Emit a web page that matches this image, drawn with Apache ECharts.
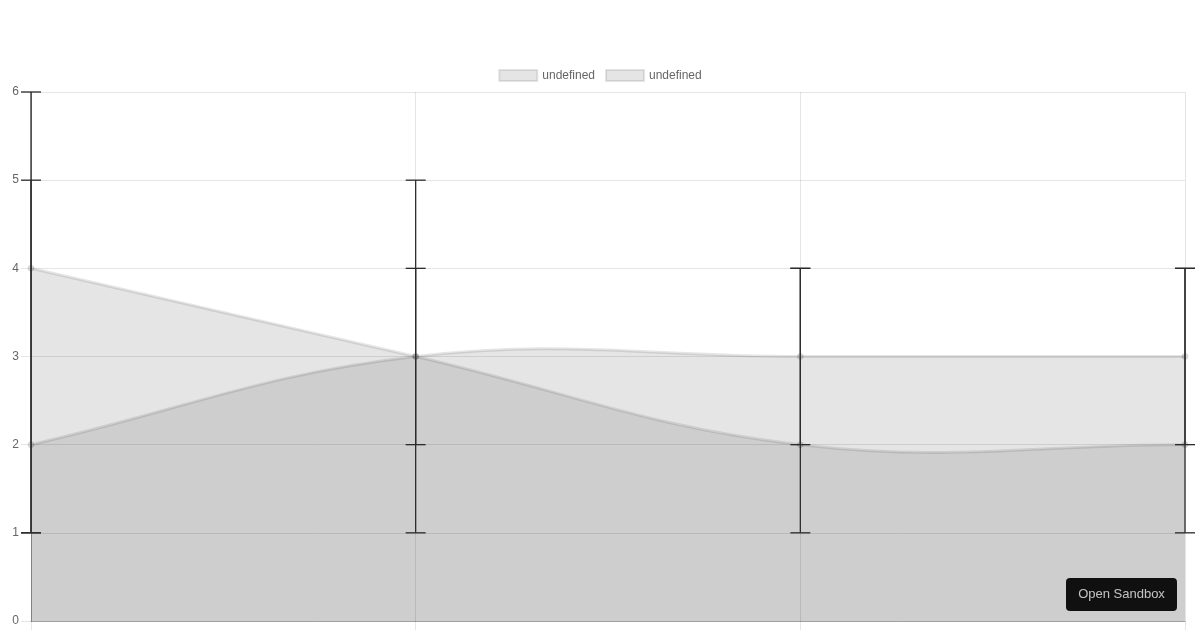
<!DOCTYPE html>
<html>
<head>
<meta charset="utf-8">
<script src="https://cdn.jsdelivr.net/npm/echarts@6/dist/echarts.min.js"></script>
<style>html,body{margin:0;padding:0;background:#fff;}#c{width:1200px;height:630px;}</style>
</head>
<body>
<div id="c"></div>
<script>
var categories = ['', '', '', ''];
var legendNames = ['undefined', 'undefined'];
var seriesA = [4, 3, 2, 2];
var seriesB = [2, 3, 3, 3];
// error bar ranges [low, high] per category
var errA = [[1, 6], [2, 4], [1, 4], [1, 4]];
var errB = [[1, 5], [1, 5], [2, 4], [2, 4]];
var yTicks = [0, 1, 2, 3, 4, 5, 6];

var chart = echarts.init(document.getElementById('c'));
var FONT = 'Liberation Sans, Arial, Helvetica, sans-serif';
var fill = 'rgba(0,0,0,0.1)';
var TENSION = 0.4;

function errData(err) {
  return err.map(function (e, i) { return [i, e[0], e[1]]; });
}
function renderErr(params, api) {
  var x = api.value(0);
  var lo = api.coord([x, api.value(1)]);
  var hi = api.coord([x, api.value(2)]);
  var w = 10;
  var st = { stroke: '#2c2c2c', lineWidth: 1.3 };
  return {
    type: 'group',
    children: [
      { type: 'line', shape: { x1: lo[0], y1: lo[1], x2: hi[0], y2: hi[1] }, style: st },
      { type: 'line', shape: { x1: lo[0] - w, y1: lo[1], x2: lo[0] + w, y2: lo[1] }, style: st },
      { type: 'line', shape: { x1: hi[0] - w, y1: hi[1], x2: hi[0] + w, y2: hi[1] }, style: st }
    ]
  };
}

// Chart.js style spline (tension 0.4) through points in pixel space
function makeCurveRenderer(values) {
  return function (params, api) {
    if (params.dataIndex !== 0) return null;
    var pts = values.map(function (v, i) { return api.coord([i, v]); });
    var n = pts.length;
    var cps = pts.map(function (p, i) {
      var prev = pts[Math.max(0, i - 1)], next = pts[Math.min(n - 1, i + 1)];
      var d01 = Math.hypot(p[0] - prev[0], p[1] - prev[1]);
      var d12 = Math.hypot(next[0] - p[0], next[1] - p[1]);
      var s = d01 + d12 || 1;
      var fa = TENSION * d01 / s, fb = TENSION * d12 / s;
      return {
        prev: [p[0] - fa * (next[0] - prev[0]), p[1] - fa * (next[1] - prev[1])],
        next: [p[0] + fb * (next[0] - prev[0]), p[1] + fb * (next[1] - prev[1])]
      };
    });
    var d = 'M' + pts[0][0] + ' ' + pts[0][1];
    for (var i = 1; i < n; i++) {
      var c1 = cps[i - 1].next, c2 = cps[i].prev;
      d += ' C' + c1[0] + ' ' + c1[1] + ' ' + c2[0] + ' ' + c2[1] + ' ' + pts[i][0] + ' ' + pts[i][1];
    }
    var baseY = api.coord([0, 0])[1];
    var area = d + ' L' + pts[n - 1][0] + ' ' + baseY + ' L' + pts[0][0] + ' ' + baseY + ' Z';
    return {
      type: 'group',
      children: [
        { type: 'path', shape: { pathData: area }, style: { fill: fill, stroke: null } },
        { type: 'path', shape: { pathData: d }, style: { fill: null, stroke: fill, lineWidth: 3 } }
      ]
    };
  };
}

function lineSeries(name, data) {
  return {
    name: name,
    type: 'line',
    data: data,
    symbol: 'circle',
    symbolSize: 6,
    lineStyle: { width: 0, opacity: 0 },
    itemStyle: { color: 'rgba(0,0,0,0.12)', borderColor: 'rgba(0,0,0,0.1)', borderWidth: 1 },
    z: 3
  };
}
function curveSeries(values) {
  return {
    type: 'custom',
    renderItem: makeCurveRenderer(values),
    data: values.map(function (v, i) { return [i, v]; }),
    silent: true,
    z: 2
  };
}

var option = {
  animation: false,
  textStyle: { fontFamily: FONT },
  legend: {
    top: 64,
    left: 'center',
    itemWidth: 38,
    itemHeight: 11,
    itemGap: 10,
    icon: 'rect',
    data: ['A', 'B'],
    formatter: function (n) { return n === 'A' ? legendNames[0] : legendNames[1]; },
    textStyle: { color: '#666', fontSize: 12, fontFamily: FONT },
    itemStyle: { color: fill, borderColor: 'rgba(0,0,0,0.1)', borderWidth: 2 },
    selectedMode: false
  },
  grid: { left: 31, right: 15, top: 92, bottom: 9, containLabel: false },
  xAxis: {
    type: 'category',
    data: categories,
    boundaryGap: false,
    axisLine: { show: true, lineStyle: { color: 'rgba(0,0,0,0.3)', width: 1 } },
    axisTick: { show: true, length: 10, lineStyle: { color: 'rgba(0,0,0,0.1)' } },
    axisLabel: { show: false },
    splitLine: { show: true, lineStyle: { color: 'rgba(0,0,0,0.1)' } }
  },
  yAxis: {
    type: 'value',
    min: 0,
    max: 6,
    interval: 1,
    axisLine: { show: true, lineStyle: { color: 'rgba(0,0,0,0.3)', width: 1 } },
    axisTick: { show: true, length: 10, lineStyle: { color: 'rgba(0,0,0,0.1)' } },
    axisLabel: {
      color: '#666', fontSize: 12, fontFamily: FONT, margin: 12,
      formatter: function (v) { return yTicks.indexOf(v) >= 0 ? String(v) : ''; }
    },
    splitLine: { show: true, lineStyle: { color: 'rgba(0,0,0,0.1)' } }
  },
  series: [
    curveSeries(seriesA),
    curveSeries(seriesB),
    lineSeries('A', seriesA),
    lineSeries('B', seriesB),
    { type: 'custom', renderItem: renderErr, data: errData(errA), z: 5, silent: true },
    { type: 'custom', renderItem: renderErr, data: errData(errB), z: 5, silent: true }
  ],
  graphic: [{
    type: 'group',
    right: 23,
    bottom: 19,
    children: [
      { type: 'rect', shape: { x: 0, y: 0, width: 111, height: 33, r: 4 }, style: { fill: '#151515' } },
      { type: 'text', x: 55.5, y: 16.5, style: { text: 'Open Sandbox', fill: '#f0f0f0', font: '13px ' + FONT, align: 'center', verticalAlign: 'middle' } }
    ]
  }]
};
chart.setOption(option);
</script>
</body>
</html>
